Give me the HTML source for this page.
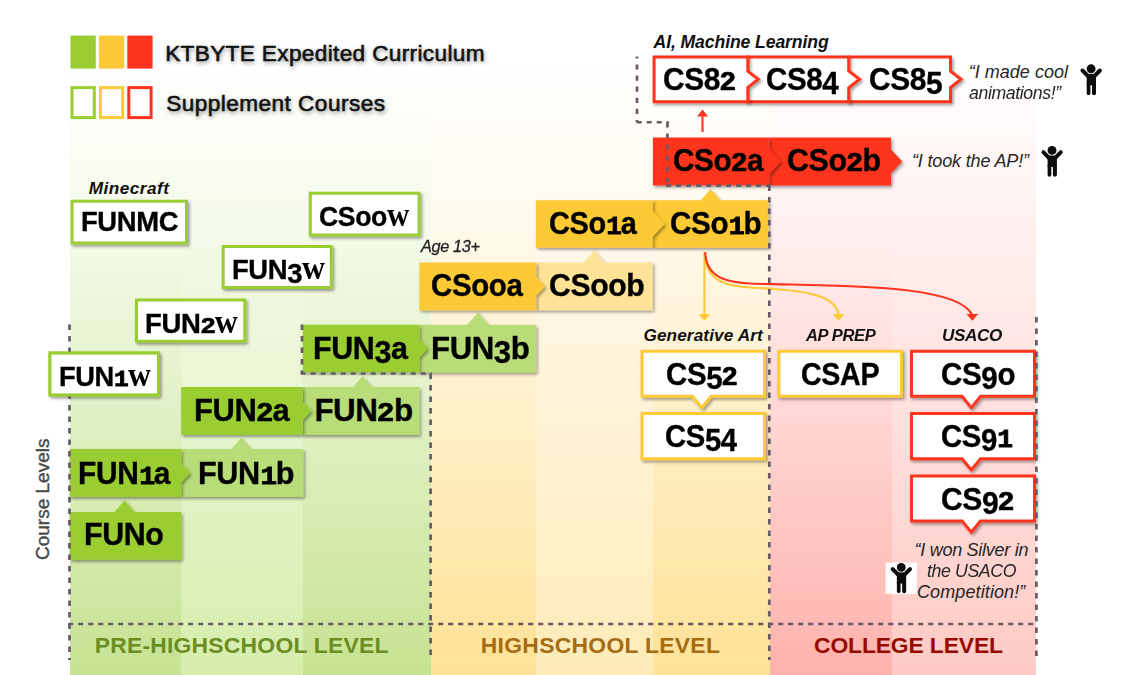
<!DOCTYPE html><html><head><meta charset="utf-8"><title>KTBYTE Curriculum</title><style>
html,body{margin:0;padding:0;background:#fff}
body{width:1121px;height:675px;position:relative;overflow:hidden;font-family:"Liberation Sans",sans-serif}
.bg{position:absolute;top:60px;height:615px}
svg{position:absolute;left:0;top:0}
.t{position:absolute;white-space:nowrap;line-height:1;font-weight:bold;color:#000;transform-origin:0 0}
.L{-webkit-text-stroke:0.35px #000}
.x{display:inline-block;transform:scale(.94,0.800);transform-origin:50% 84.65%;-webkit-text-stroke:0.9px #000;margin:0 -0.01em}
.one{display:inline-block;font-family:"Liberation Mono",monospace;transform:scale(.9,0.800);transform-origin:50% 84.65%;margin:0 -0.05em 0 -0.02em;-webkit-text-stroke:1.0px #000}
.d{position:relative;top:0.13em}
.w{font-family:"Liberation Serif",serif;font-weight:bold;font-size:1.16em;-webkit-text-stroke:0}
</style></head><body>
<div class="bg" style="left:69.5px;width:111.7px;background:linear-gradient(to bottom,#fff 0%,rgb(244,250,232) 27.6%,rgb(198,227,146) 100%)"></div>
<div class="bg" style="left:181.2px;width:121.8px;background:linear-gradient(to bottom,#fff 0%,rgb(244,250,232) 27.6%,rgb(214,237,172) 100%)"></div>
<div class="bg" style="left:303.0px;width:127.6px;background:linear-gradient(to bottom,#fff 0%,rgb(244,250,232) 27.6%,rgb(198,227,146) 100%)"></div>
<div class="bg" style="left:430.6px;width:105.4px;background:linear-gradient(to bottom,#fff 0%,rgb(255,249,235) 27.6%,rgb(254,226,150) 100%)"></div>
<div class="bg" style="left:536.0px;width:116.6px;background:linear-gradient(to bottom,#fff 0%,rgb(255,249,235) 27.6%,rgb(254,235,184) 100%)"></div>
<div class="bg" style="left:652.6px;width:117.0px;background:linear-gradient(to bottom,#fff 0%,rgb(255,249,235) 27.6%,rgb(254,226,150) 100%)"></div>
<div class="bg" style="left:769.6px;width:122.0px;background:linear-gradient(to bottom,#fff 0%,rgb(255,240,239) 27.6%,rgb(255,178,172) 100%)"></div>
<div class="bg" style="left:891.6px;width:144.8px;background:linear-gradient(to bottom,#fff 0%,rgb(255,240,239) 27.6%,rgb(255,202,197) 100%)"></div>
<svg width="1121" height="675" viewBox="0 0 1121 675">
<defs><filter id="sh" x="-10%" y="-20%" width="125%" height="150%"><feDropShadow dx="1.6" dy="2" stdDeviation="1.7" flood-color="#000" flood-opacity="0.38"/></filter></defs>
<rect x="70.5" y="35.6" width="25.3" height="33" fill="#9acd32"/>
<rect x="72.0" y="87.6" width="22.3" height="30" fill="#fff" stroke="#9acd32" stroke-width="3"/>
<rect x="98.9" y="35.6" width="25.3" height="33" fill="#fdc936"/>
<rect x="100.4" y="87.6" width="22.3" height="30" fill="#fff" stroke="#fdc936" stroke-width="3"/>
<rect x="127.3" y="35.6" width="25.3" height="33" fill="#fe341e"/>
<rect x="128.8" y="87.6" width="22.3" height="30" fill="#fff" stroke="#fe341e" stroke-width="3"/>
<polygon filter="url(#sh)" fill="#9acd32" points="69.6,511.9 114.5,511.9 124.5,500.3 134.5,511.9 181.2,511.9 181.2,559.8 69.6,559.8"/>
<polygon filter="url(#sh)" fill="#b8dc78" points="181.2,449.1 231.5,449.1 241.3,437.7 251.1,449.1 303.3,449.1 303.3,497.1 181.2,497.1"/>
<polygon filter="url(#sh)" fill="#9acd32" points="69.6,449.1 181.2,449.1 181.2,463.6 190.0,473.1 181.2,482.6 181.2,497.1 69.6,497.1"/>
<polygon filter="url(#sh)" fill="#b8dc78" points="302.8,387.1 353.2,387.1 362.7,376.0 372.2,387.1 419.4,387.1 419.4,434.9 302.8,434.9"/>
<polygon filter="url(#sh)" fill="#9acd32" points="181.2,387.1 302.8,387.1 302.8,402.0 311.1,411.0 302.8,420.0 302.8,434.9 181.2,434.9"/>
<polygon filter="url(#sh)" fill="#b8dc78" points="419.3,324.7 467.3,324.7 478.0,312.3 488.7,324.7 536.1,324.7 536.1,372.5 419.3,372.5"/>
<polygon filter="url(#sh)" fill="#9acd32" points="302.8,324.7 419.4,324.7 419.4,339.5 427.7,348.5 419.4,357.5 419.4,372.3 302.8,372.3"/>
<polygon filter="url(#sh)" fill="#fee397" points="536.2,262.4 583.9,262.4 594.0,250.6 604.1,262.4 652.6,262.4 652.6,310.3 536.2,310.3"/>
<polygon filter="url(#sh)" fill="#fdc936" points="419.4,262.4 536.2,262.4 536.2,277.1 544.8,286.4 536.2,295.6 536.2,310.3 419.4,310.3"/>
<polygon filter="url(#sh)" fill="#fdc936" points="652.6,200.2 701.0,200.2 710.7,188.9 720.4,200.2 768.6,200.2 768.6,247.8 652.6,247.8"/>
<polygon filter="url(#sh)" fill="#fdc936" points="536.0,200.2 652.6,200.2 652.6,211.3 664.4,224.0 652.6,236.7 652.6,247.8 536.0,247.8"/>
<polygon filter="url(#sh)" fill="#fe341e" points="769.2,137.6 891.0,137.6 891.0,149.4 902.2,161.5 891.0,173.6 891.0,185.4 769.2,185.4"/>
<polygon filter="url(#sh)" fill="#fe341e" points="652.9,137.6 769.2,137.6 769.2,148.8 781.0,161.5 769.2,174.2 769.2,185.4 652.9,185.4"/>
<g fill="none" stroke-width="2.1">
<path d="M704.4 252 L704.4 315" stroke="#fdc936"/>
<path d="M704.6 252 C705 292 745 286 775 289 C815 292 836 298 838.6 315" stroke="#fdc936"/>
<path d="M705.2 252 C706 288 745 283 790 284.5 C870 286 960 288 972.3 315" stroke="#fe341e"/>
<path d="M702.5 132 L702.5 115" stroke="#fe341e"/>
</g>
<polygon fill="#fdc936" points="698.4,314 710.4,314 704.4,320.8"/>
<polygon fill="#fdc936" points="832.6,314 844.6,314 838.6,320.8"/>
<polygon fill="#fe341e" points="966.3,314 978.3,314 972.3,320.8"/>
<polygon fill="#fe341e" points="697,116.5 708,116.5 702.5,109.4"/>
<polygon filter="url(#sh)" fill="#fff" stroke="#9acd32" stroke-width="3.0" stroke-linejoin="miter" points="72.1,201.3 186.5,201.3 186.5,242.9 72.1,242.9"/>
<polygon filter="url(#sh)" fill="#fff" stroke="#9acd32" stroke-width="3.0" stroke-linejoin="miter" points="50.0,353.1 158.5,353.1 158.5,394.9 50.0,394.9"/>
<polygon filter="url(#sh)" fill="#fff" stroke="#9acd32" stroke-width="3.0" stroke-linejoin="miter" points="136.5,299.9 244.8,299.9 244.8,341.3 136.5,341.3"/>
<polygon filter="url(#sh)" fill="#fff" stroke="#9acd32" stroke-width="3.0" stroke-linejoin="miter" points="223.2,246.5 331.2,246.5 331.2,287.5 223.2,287.5"/>
<polygon filter="url(#sh)" fill="#fff" stroke="#9acd32" stroke-width="3.0" stroke-linejoin="miter" points="310.3,193.2 419.1,193.2 419.1,235.0 310.3,235.0"/>
<polygon filter="url(#sh)" fill="#fff" stroke="#fdc936" stroke-width="3.0" stroke-linejoin="miter" points="642.1,351.3 764.5,351.3 764.5,396.2 711.1,396.2 701.8,407.6 692.5,396.2 642.1,396.2"/>
<polygon filter="url(#sh)" fill="#fff" stroke="#fdc936" stroke-width="3.0" stroke-linejoin="miter" points="642.1,413.5 764.5,413.5 764.5,458.8 642.1,458.8"/>
<polygon filter="url(#sh)" fill="#fff" stroke="#fdc936" stroke-width="3.0" stroke-linejoin="miter" points="778.9,351.3 901.5,351.3 901.5,396.2 778.9,396.2"/>
<polygon filter="url(#sh)" fill="#fff" stroke="#fe341e" stroke-width="3.0" stroke-linejoin="miter" points="911.5,351.3 1034.5,351.3 1034.5,396.2 980.6,396.2 971.3,407.6 962.0,396.2 911.5,396.2"/>
<polygon filter="url(#sh)" fill="#fff" stroke="#fe341e" stroke-width="3.0" stroke-linejoin="miter" points="911.5,413.5 1034.5,413.5 1034.5,458.8 980.5,458.8 971.3,470.0 962.1,458.8 911.5,458.8"/>
<polygon filter="url(#sh)" fill="#fff" stroke="#fe341e" stroke-width="3.0" stroke-linejoin="miter" points="911.5,476.1 1034.5,476.1 1034.5,521.1 980.4,521.1 971.3,532.2 962.2,521.1 911.5,521.1"/>
<polygon filter="url(#sh)" fill="#fff" stroke="#fe341e" stroke-width="3.0" stroke-linejoin="miter" points="848.7,56.9 950.5,56.9 950.5,71.2 961.0,79.3 950.5,87.5 950.5,101.8 848.7,101.8"/>
<polygon filter="url(#sh)" fill="#fff" stroke="#fe341e" stroke-width="3.0" stroke-linejoin="miter" points="747.8,56.9 848.7,56.9 848.7,71.0 859.5,79.3 848.7,87.7 848.7,101.8 747.8,101.8"/>
<polygon filter="url(#sh)" fill="#fff" stroke="#fe341e" stroke-width="3.0" stroke-linejoin="miter" points="654.1,56.9 747.8,56.9 747.8,71.3 758.2,79.3 747.8,87.4 747.8,101.8 654.1,101.8"/>
</svg>
<svg width="1121" height="675" viewBox="0 0 1121 675">
<g fill="none" stroke="#685a64" stroke-width="2.7" stroke-dasharray="5.5 6">
<path d="M69.5 324.5 L69.5 660"/>
<path d="M302 324.5 L302 373.5"/>
<path d="M430.6 373.5 L430.6 660"/>
<path d="M637 56.5 L637 122.3" stroke-dasharray="5.2 5.9" stroke-dashoffset="3.2"/>
<path d="M667.4 122.3 L667.4 185.6" stroke-dasharray="5.2 5.9"/>
<path d="M769.3 185.6 L769.3 660"/>
<path d="M1036.4 317 L1036.4 660"/>
</g>
<g fill="none" stroke="#685a64" stroke-width="2.6" stroke-dasharray="5 5">
<path d="M68.2 624 L1037.7 624"/>
<path d="M300.7 373.5 L431.9 373.5"/>
<path d="M635.7 122.3 L668.7 122.3" stroke-dashoffset="-1"/>
<path d="M666.1 185.6 L770.6 185.6"/>
</g>
<rect x="50.0" y="353.1" width="108.5" height="41.8" fill="#fff" stroke="#9acd32" stroke-width="3.0"/>
<g transform="translate(1080.00,64.20) scale(1.0000,1.0000)" fill="#0d0d0d" stroke="#0d0d0d" stroke-linecap="round"><circle cx="11.1" cy="4.6" r="4.45" stroke="none"/><path d="M2.5 6.3 L8 12 M19.9 6.3 L14.4 12" stroke-width="4" fill="none"/><rect x="6.7" y="9.7" width="9.3" height="11.4" stroke="none"/><path d="M8.55 20 L8.55 29.0" stroke-width="3.7" fill="none"/><path d="M14.0 20 L14.0 29.0" stroke-width="4" fill="none"/></g>
<g transform="translate(1040.90,145.80) scale(1.0000,1.0000)" fill="#0d0d0d" stroke="#0d0d0d" stroke-linecap="round"><circle cx="11.1" cy="4.6" r="4.45" stroke="none"/><path d="M2.5 6.3 L8 12 M19.9 6.3 L14.4 12" stroke-width="4" fill="none"/><rect x="6.7" y="9.7" width="9.3" height="11.4" stroke="none"/><path d="M8.55 20 L8.55 29.0" stroke-width="3.7" fill="none"/><path d="M14.0 20 L14.0 29.0" stroke-width="4" fill="none"/></g>
<rect x="885.6" y="562.6" width="31.2" height="31.2" fill="#fff"/><g transform="translate(890.20,562.90) scale(0.9956,0.9806)" fill="#0d0d0d" stroke="#0d0d0d" stroke-linecap="round"><circle cx="11.1" cy="4.6" r="4.45" stroke="none"/><path d="M2.5 6.3 L8 12 M19.9 6.3 L14.4 12" stroke-width="4" fill="none"/><rect x="6.7" y="9.7" width="9.3" height="11.4" stroke="none"/><path d="M8.55 20 L8.55 29.0" stroke-width="3.7" fill="none"/><path d="M14.0 20 L14.0 29.0" stroke-width="4" fill="none"/></g>
</svg>
<div class="t L" id="t_FUN0" style="left:84.03px;top:519.30px;font-size:31.30px;letter-spacing:-0.400px;transform:scaleX(0.9715)">FUNo</div>
<div class="t L" id="t_FUN1a" style="left:78.44px;top:457.50px;font-size:31.30px;letter-spacing:-0.400px;transform:scaleX(0.9564)">FUN<span class="one">1</span>a</div>
<div class="t L" id="t_FUN1b" style="left:197.82px;top:457.50px;font-size:31.30px;letter-spacing:-0.400px;transform:scaleX(0.9793)">FUN<span class="one">1</span>b</div>
<div class="t L" id="t_FUN2a" style="left:193.51px;top:395.00px;font-size:31.30px;letter-spacing:-0.400px;transform:scaleX(0.9876)">FUN<span class="x">2</span>a</div>
<div class="t L" id="t_FUN2b" style="left:314.40px;top:395.00px;font-size:31.30px;letter-spacing:-0.400px;transform:scaleX(1.0000)">FUN<span class="x">2</span>b</div>
<div class="t L" id="t_FUN3a" style="left:313.13px;top:332.50px;font-size:31.30px;letter-spacing:-0.400px;transform:scaleX(0.9723)">FUN<span class="d">3</span>a</div>
<div class="t L" id="t_FUN3b" style="left:430.60px;top:332.50px;font-size:31.30px;letter-spacing:-0.400px;transform:scaleX(0.9959)">FUN<span class="d">3</span>b</div>
<div class="t L" id="t_CS00a" style="left:431.26px;top:270.40px;font-size:31.30px;letter-spacing:-0.400px;transform:scaleX(0.9415)">CSooa</div>
<div class="t L" id="t_CS00b" style="left:548.83px;top:270.40px;font-size:31.30px;letter-spacing:-0.400px;transform:scaleX(0.9651)">CSoob</div>
<div class="t L" id="t_CS01a" style="left:548.88px;top:208.00px;font-size:31.30px;letter-spacing:-0.400px;transform:scaleX(0.9245)">CSo<span class="one">1</span>a</div>
<div class="t L" id="t_CS01b" style="left:670.15px;top:208.00px;font-size:31.30px;letter-spacing:-0.400px;transform:scaleX(0.9476)">CSo<span class="one">1</span>b</div>
<div class="t L" id="t_CS02a" style="left:673.35px;top:145.20px;font-size:31.30px;letter-spacing:-0.400px;transform:scaleX(0.9507)">CSo<span class="x">2</span>a</div>
<div class="t L" id="t_CS02b" style="left:786.63px;top:145.20px;font-size:31.30px;letter-spacing:-0.400px;transform:scaleX(0.9717)">CSo<span class="x">2</span>b</div>
<div class="t L" id="t_FUNMC" style="left:81.28px;top:207.18px;font-size:28.26px;letter-spacing:-0.400px;transform:scaleX(0.9708)">FUNMC</div>
<div class="t L" id="t_FUN1w" style="left:58.83px;top:358.98px;font-size:28.26px;letter-spacing:-0.400px;transform:scaleX(0.9661)">FUN<span class="one">1</span><span class="w">w</span></div>
<div class="t L" id="t_FUN2w" style="left:144.93px;top:305.58px;font-size:28.26px;letter-spacing:-0.400px;transform:scaleX(0.9735)">FUN<span class="x">2</span><span class="w">w</span></div>
<div class="t L" id="t_FUN3w" style="left:231.73px;top:252.18px;font-size:28.26px;letter-spacing:-0.400px;transform:scaleX(0.9696)">FUN<span class="d">3</span><span class="w">w</span></div>
<div class="t L" id="t_CS00w" style="left:318.66px;top:199.18px;font-size:28.26px;letter-spacing:-0.400px;transform:scaleX(0.9423)">CSoo<span class="w">w</span></div>
<div class="t L" id="t_CS52" style="left:666.16px;top:358.90px;font-size:31.30px;letter-spacing:-0.400px;transform:scaleX(0.9406)">CS<span class="d">5</span><span class="x">2</span></div>
<div class="t L" id="t_CS54" style="left:665.17px;top:421.30px;font-size:31.30px;letter-spacing:-0.400px;transform:scaleX(0.9349)">CS<span class="d">5</span><span class="d">4</span></div>
<div class="t L" id="t_CSAP" style="left:800.88px;top:358.90px;font-size:31.30px;letter-spacing:-0.400px;transform:scaleX(0.9165)">CSAP</div>
<div class="t L" id="t_CS90" style="left:940.56px;top:358.90px;font-size:31.30px;letter-spacing:-0.400px;transform:scaleX(0.9447)">CS<span class="d">9</span>o</div>
<div class="t L" id="t_CS91" style="left:940.56px;top:421.30px;font-size:31.30px;letter-spacing:-0.400px;transform:scaleX(0.9367)">CS<span class="d">9</span><span class="one">1</span></div>
<div class="t L" id="t_CS92" style="left:940.54px;top:483.60px;font-size:31.30px;letter-spacing:-0.400px;transform:scaleX(0.9604)">CS<span class="d">9</span><span class="x">2</span></div>
<div class="t L" id="t_CS82" style="left:663.44px;top:63.80px;font-size:31.30px;letter-spacing:-0.400px;transform:scaleX(0.9565)">CS8<span class="x">2</span></div>
<div class="t L" id="t_CS84" style="left:765.76px;top:63.80px;font-size:31.30px;letter-spacing:-0.400px;transform:scaleX(0.9440)">CS8<span class="d">4</span></div>
<div class="t L" id="t_CS85" style="left:868.54px;top:63.80px;font-size:31.30px;letter-spacing:-0.400px;transform:scaleX(0.9565)">CS8<span class="d">5</span></div>
<div class="t" id="t_legend1" style="left:165.20px;top:42.67px;font-size:22.60px;letter-spacing:0.354px;transform:scaleX(1.0000);font-weight:normal;-webkit-text-stroke:0.6px #111;text-shadow:1px 2px 4px rgba(0,0,0,.5);color:#111">KTBYTE Expedited Curriculum</div>
<div class="t" id="t_legend2" style="left:166.20px;top:92.67px;font-size:22.60px;letter-spacing:0.459px;transform:scaleX(1.0000);font-weight:normal;-webkit-text-stroke:0.6px #111;text-shadow:1px 2px 4px rgba(0,0,0,.5);color:#111">Supplement Courses</div>
<div class="t" id="t_mc" style="left:88.70px;top:179.64px;font-size:17.20px;letter-spacing:0.487px;transform:scaleX(1.0000);font-weight:bold;font-style:italic;color:#111">Minecraft</div>
<div class="t" id="t_age" style="left:420.55px;top:237.94px;font-size:17.20px;letter-spacing:-0.400px;transform:scaleX(0.9497);font-weight:normal;font-style:italic;color:#222;-webkit-text-stroke:0.3px #222">Age 13+</div>
<div class="t" id="t_ai" style="left:653.60px;top:34.00px;font-size:17.60px;letter-spacing:-0.100px;transform:scaleX(1.0000);font-weight:bold;font-style:italic;color:#111">AI, Machine Learning</div>
<div class="t" id="t_gen" style="left:643.40px;top:326.94px;font-size:17.20px;letter-spacing:0.123px;transform:scaleX(1.0000);font-weight:bold;font-style:italic;color:#111">Generative Art</div>
<div class="t" id="t_ap" style="left:805.60px;top:326.94px;font-size:17.20px;letter-spacing:-0.400px;transform:scaleX(0.9642);font-weight:bold;font-style:italic;color:#111">AP PREP</div>
<div class="t" id="t_usaco" style="left:941.70px;top:326.94px;font-size:17.20px;letter-spacing:-0.400px;transform:scaleX(0.9983);font-weight:bold;font-style:italic;color:#111">USACO</div>
<div class="t" id="t_q1a" style="left:968.70px;top:62.96px;font-size:18.00px;letter-spacing:0.027px;transform:scaleX(1.0000);font-weight:normal;font-style:italic;color:#262626">“I made cool</div>
<div class="t" id="t_q1b" style="left:969.00px;top:83.56px;font-size:18.00px;letter-spacing:-0.400px;transform:scaleX(0.9831);font-weight:normal;font-style:italic;color:#262626">animations!”</div>
<div class="t" id="t_q2" style="left:912.00px;top:151.66px;font-size:18.00px;letter-spacing:-0.160px;transform:scaleX(1.0000);font-weight:normal;font-style:italic;color:#262626">“I took the AP!”</div>
<div class="t" id="t_q3a" style="left:914.50px;top:541.06px;font-size:18.00px;letter-spacing:-0.273px;transform:scaleX(1.0000);font-weight:normal;font-style:italic;color:#262626">“I won Silver in</div>
<div class="t" id="t_q3b" style="left:926.90px;top:562.46px;font-size:18.00px;letter-spacing:-0.400px;transform:scaleX(0.9846);font-weight:normal;font-style:italic;color:#262626">the USACO</div>
<div class="t" id="t_q3c" style="left:917.00px;top:583.46px;font-size:18.00px;letter-spacing:0.108px;transform:scaleX(1.0000);font-weight:normal;font-style:italic;color:#262626">Competition!”</div>
<div class="t" id="t_lv1" style="left:94.70px;top:633.72px;font-size:22.90px;letter-spacing:0.221px;transform:scaleX(1.0000);font-weight:bold;color:#6b8e23">PRE-HIGHSCHOOL LEVEL</div>
<div class="t" id="t_lv2" style="left:480.80px;top:633.72px;font-size:22.90px;letter-spacing:0.280px;transform:scaleX(1.0000);font-weight:bold;color:#a66c14">HIGHSCHOOL LEVEL</div>
<div class="t" id="t_lv3" style="left:814.00px;top:633.72px;font-size:22.90px;letter-spacing:-0.142px;transform:scaleX(1.0000);font-weight:bold;color:#960a00">COLLEGE LEVEL</div>
<div class="t" id="t_cl" style="left:34.0px;top:559.6px;font-size:18.8px;font-weight:normal;color:#484848;-webkit-text-stroke:0.4px #484848;transform:rotate(-90deg) scaleX(1.012)">Course Levels</div>
</body></html>
